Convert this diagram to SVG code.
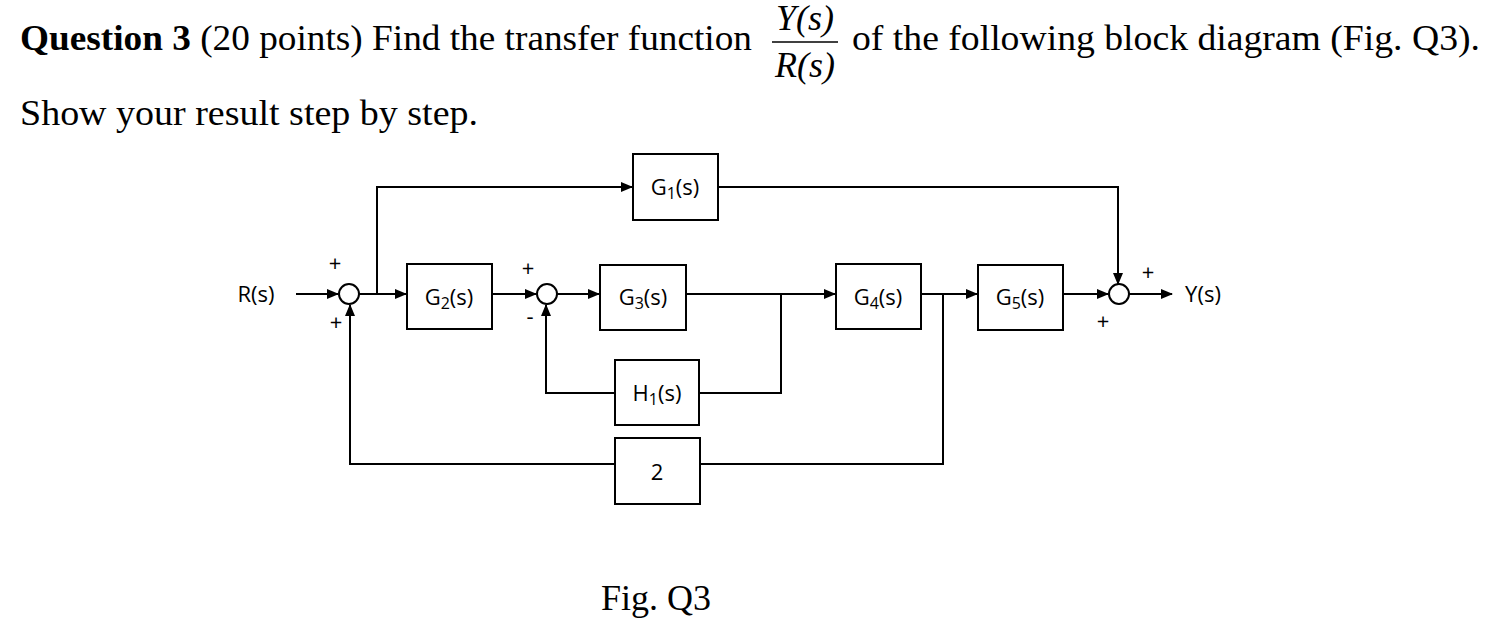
<svg xmlns="http://www.w3.org/2000/svg" width="1511" height="641" viewBox="0 0 1511 641">
<style>
.t{font-family:"Liberation Serif",serif;font-size:36px;fill:#000}
.b{fill:#fff;stroke:#000;stroke-width:2}
.l{font-family:"Open Sans","Noto Sans",sans-serif;font-size:22px;fill:#000;text-anchor:middle}
.s{font-family:"Open Sans",sans-serif;font-size:22px;fill:#000;text-anchor:middle}
.c{fill:none;stroke:#000;stroke-width:2}
</style>
<defs><marker id="a" markerWidth="12" markerHeight="10" refX="11" refY="5" orient="auto" markerUnits="userSpaceOnUse"><path d="M0,0L12,5L0,10z" fill="#000"/></marker></defs>
<rect width="1511" height="641" fill="#fff"/>
<text class="t" x="20" y="50" textLength="732" lengthAdjust="spacingAndGlyphs"><tspan font-weight="bold">Question 3</tspan> (20 points) Find the transfer function</text>
<text class="t" x="805" y="30" text-anchor="middle" font-style="italic" font-size="31">Y(s)</text>
<line x1="772" y1="42" x2="838" y2="42" stroke="#000" stroke-width="1.5"/>
<text class="t" x="805" y="77" text-anchor="middle" font-style="italic" font-size="31">R(s)</text>
<text class="t" x="852" y="50" textLength="628" lengthAdjust="spacingAndGlyphs">of the following block diagram (Fig. Q3).</text>
<text class="t" x="20" y="125" textLength="458" lengthAdjust="spacingAndGlyphs">Show your result step by step.</text>
<text class="t" x="601" y="610">Fig. Q3</text>
<g id="connectors">
<path class="c" d="M296,294H338" marker-end="url(#a)"/>
<path class="c" d="M359,294H406" marker-end="url(#a)"/>
<path class="c" d="M377,294V187H632" marker-end="url(#a)"/>
<path class="c" d="M718,187H1118V284" marker-end="url(#a)"/>
<path class="c" d="M492,294H536" marker-end="url(#a)"/>
<path class="c" d="M557,294H599" marker-end="url(#a)"/>
<path class="c" d="M686,294H835" marker-end="url(#a)"/>
<path class="c" d="M781,294V393H699"/>
<path class="c" d="M615,393H546V305" marker-end="url(#a)"/>
<path class="c" d="M921,294H977" marker-end="url(#a)"/>
<path class="c" d="M943,294V464H700"/>
<path class="c" d="M615,464H350V305" marker-end="url(#a)"/>
<path class="c" d="M1063,294H1108" marker-end="url(#a)"/>
<path class="c" d="M1129,294H1172" marker-end="url(#a)"/>
</g>
<g id="sum1"><circle class="b" cx="349" cy="294" r="10"/><text class="s" x="335" y="271">+</text><text class="s" x="336" y="330">+</text></g>
<g id="sum2"><circle class="b" cx="547" cy="294" r="10"/><text class="s" x="528" y="276">+</text><text class="s" x="530" y="324">-</text></g>
<g id="sum3"><circle class="b" cx="1119" cy="294" r="10"/><text class="s" x="1148" y="280">+</text><text class="s" x="1103" y="329">+</text></g>
<g id="R"><text class="l" x="256" y="302">R(s)</text></g>
<g id="Y"><text class="l" x="1203" y="302">Y(s)</text></g>
<g id="G1"><rect class="b" x="633" y="154" width="85" height="66"/><text class="l" x="675" y="195">G<tspan font-size="16" dy="4">1</tspan><tspan dy="-4">(s)</tspan></text></g>
<g id="G2"><rect class="b" x="407" y="264" width="85" height="65"/><text class="l" x="449" y="305">G<tspan font-size="16" dy="4">2</tspan><tspan dy="-4">(s)</tspan></text></g>
<g id="G3"><rect class="b" x="600" y="265" width="86" height="65"/><text class="l" x="643" y="305">G<tspan font-size="16" dy="4">3</tspan><tspan dy="-4">(s)</tspan></text></g>
<g id="G4"><rect class="b" x="836" y="264" width="85" height="65"/><text class="l" x="878" y="305">G<tspan font-size="16" dy="4">4</tspan><tspan dy="-4">(s)</tspan></text></g>
<g id="G5"><rect class="b" x="978" y="265" width="85" height="65"/><text class="l" x="1020" y="305">G<tspan font-size="16" dy="4">5</tspan><tspan dy="-4">(s)</tspan></text></g>
<g id="H1"><rect class="b" x="615" y="360" width="84" height="65"/><text class="l" x="657" y="401">H<tspan font-size="16" dy="4">1</tspan><tspan dy="-4">(s)</tspan></text></g>
<g id="K2"><rect class="b" x="615" y="438" width="85" height="66"/><text class="l" x="657" y="480">2</text></g>
</svg>
